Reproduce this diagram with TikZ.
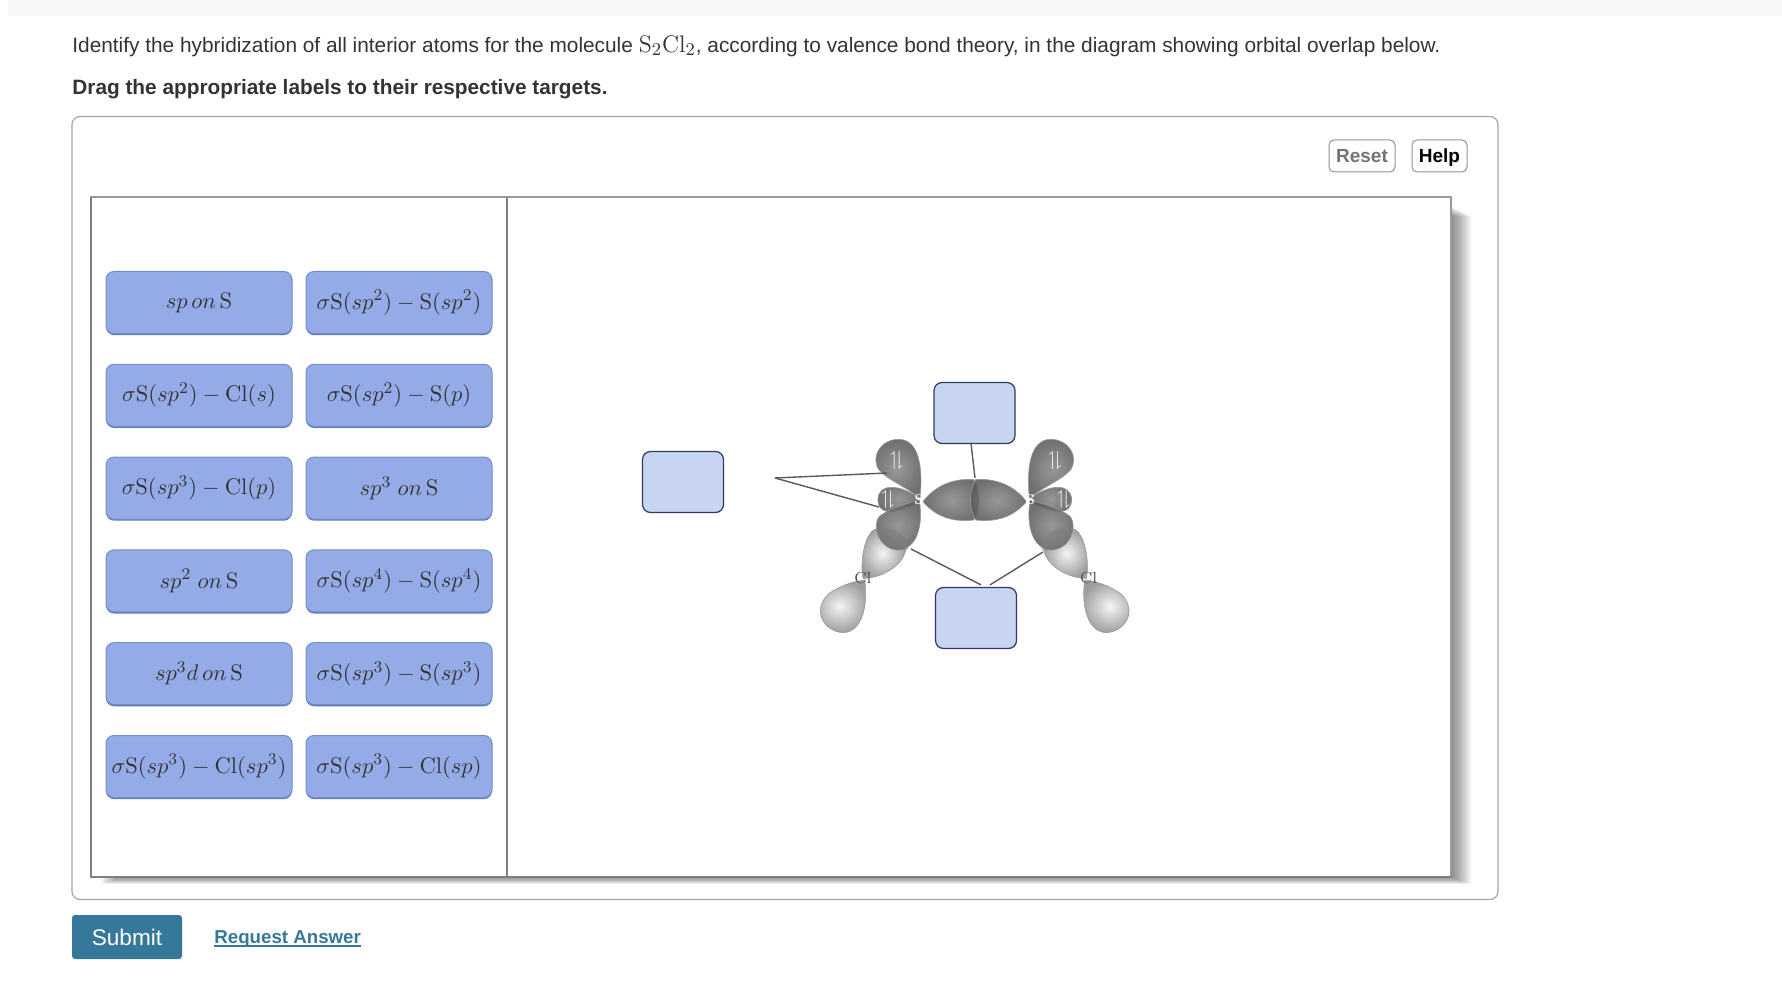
\documentclass[tikz,border=0pt]{standalone}
\usepackage[no-math]{fontspec}
\usepackage{amsmath}
\usepackage{amssymb}
\usepackage{tikz}
\usetikzlibrary{shadows}
\newfontfamily\uifont{Liberation Sans}
\newcommand{\lab}[1]{\scalebox{1.03}{$#1$}}
\definecolor{choicefill}{HTML}{94ABE8}
\definecolor{choiceline}{HTML}{5B7BBE}
\definecolor{targetfill}{HTML}{C7D4F2}
\definecolor{targetline}{HTML}{2F3A5C}
\definecolor{submitblue}{HTML}{35789A}
\definecolor{bodytext}{HTML}{333333}
\tikzstyle{choice} = [rectangle, rounded corners=4pt, minimum width=93pt, minimum height=31pt, inner sep=0pt, text centered, text=bodytext, draw=choiceline!85, line width=0.5pt, fill=choicefill, general shadow={shadow yshift=-0.8pt, fill=choiceline}, font=\fontsize{10.95}{12}\selectfont]
\tikzstyle{target} = [rectangle, rounded corners=4pt, minimum width=40.5pt, minimum height=30.5pt, draw=targetline, line width=0.6pt, fill=targetfill]
\tikzstyle{btn} = [rectangle, rounded corners=2.5pt, minimum height=16pt, inner sep=0pt, text height=7pt, text depth=0pt, draw=gray!85, line width=0.5pt, fill=white, font=\uifont\bfseries\fontsize{9.5}{11}\selectfont]
\tikzstyle{leader} = [line width=0.7pt, draw=black!65]
\tikzstyle{darklobe} = [inner color=black!46, outer color=black!64, draw=black!40, line width=0.3pt, fill opacity=0.88]
\tikzstyle{lightlobe} = [inner color=black!4, outer color=black!38, draw=black!40, line width=0.3pt]
\newcommand{\halforbital}{
    \shade [lightlobe] (685,630) .. controls (695,700) and (680,785) .. (625,788) .. controls (570,785) and (535,720) .. (585,670) .. controls (620,645) and (650,635) .. (685,630);
    \shade [lightlobe] (680,625) .. controls (670,560) and (690,480) .. (720,475) -- (800,540) .. controls (790,590) and (730,625) .. (680,625);
    \shade [darklobe] (838,385) .. controls (790,345) and (722,335) .. (722,390) .. controls (722,430) and (760,440) .. (838,395);
    \shade [darklobe] (840,385) .. controls (848,300) and (840,208) .. (780,208) .. controls (730,208) and (700,260) .. (725,300) .. controls (750,330) and (800,350) .. (840,385);
    \shade [darklobe] (838,390) .. controls (850,470) and (830,540) .. (775,540) .. controls (725,535) and (705,470) .. (725,440) .. controls (760,410) and (810,400) .. (838,390);
    \fill [black!50, fill opacity=0.6] (718,475) .. controls (770,465) and (812,505) .. (806,538) .. controls (770,548) and (725,530) .. (718,475);
    \shade [darklobe] (848,395) .. controls (878,352) and (925,325) .. (990,328) .. controls (1010,360) and (1010,420) .. (990,450) .. controls (925,458) and (880,435) .. (848,395);
}
\begin{document}
\begin{tikzpicture}[x=0.5pt,y=-0.5pt]
    \useasboundingbox (0,0) rectangle (1782,994);
    \fill [black!3] (8,0) rectangle (1782,16);
    % question
    \node (q1) [anchor=west, inner sep=0pt, text=bodytext, font=\uifont\fontsize{10.42}{12}\selectfont] at (72,46) {Identify the hybridization of all interior atoms for the molecule {\fontsize{12.4}{14}\selectfont$\mathrm{S_2Cl_2}$}, according to valence bond theory, in the diagram showing orbital overlap below.};
    \node (q2) [anchor=west, inner sep=0pt, text=bodytext, font=\uifont\bfseries\fontsize{10.4}{12}\selectfont] at (72,89) {Drag the appropriate labels to their respective targets.};
    % panels
    \draw [black!35, line width=0.6pt, rounded corners=4pt] (72,116.5) rectangle (1498,899.5);
    \foreach \i in {1,...,10}
        \fill [black, opacity=0.055] (1451,{206+\i}) rectangle ({1451+2*\i},{877+0.7*\i});
    \foreach \i in {1,...,10}
        \fill [black, opacity=0.055] ({122-2*\i},877) rectangle (1451,{877+0.7*\i});
    \draw [black!40, line width=0.6pt] (91,197) rectangle (1451,877);
    \draw [black!50, line width=1pt] (91,197) -- (91,877) -- (1451,877);
    \draw [black!50, line width=0.8pt] (507,197) -- (507,877);
    \node (reset) [btn, minimum width=33pt, text=black!55] at (1362,156) {Reset};
    \node (help) [btn, minimum width=27.5pt, text=black] at (1439.5,156) {Help};
    % labels
    \node (n1) [choice] at (199,302.5) {\lab{sp\,on\,\mathrm{S}}};
    \node (n2) [choice, right of= n1, node distance = 100pt] {\lab{\sigma\mathrm{S}(sp^2)-\mathrm{S}(sp^2)}};
    \node (n3) [choice, below of= n1, node distance = 46.4pt] {\lab{\sigma\mathrm{S}(sp^2)-\mathrm{Cl}(s)}};
    \node (n4) [choice, right of= n3, node distance = 100pt] {\lab{\sigma\mathrm{S}(sp^2)-\mathrm{S}(p)}};
    \node (n5) [choice, below of= n3, node distance = 46.4pt] {\lab{\sigma\mathrm{S}(sp^3)-\mathrm{Cl}(p)}};
    \node (n6) [choice, right of= n5, node distance = 100pt] {\lab{sp^3\;on\,\mathrm{S}}};
    \node (n7) [choice, below of= n5, node distance = 46.4pt] {\lab{sp^2\;on\,\mathrm{S}}};
    \node (n8) [choice, right of= n7, node distance = 100pt] {\lab{\sigma\mathrm{S}(sp^4)-\mathrm{S}(sp^4)}};
    \node (n9) [choice, below of= n7, node distance = 46.4pt] {\lab{sp^3d\,on\,\mathrm{S}}};
    \node (n10) [choice, right of= n9, node distance = 100pt] {\lab{\sigma\mathrm{S}(sp^3)-\mathrm{S}(sp^3)}};
    \node (n11) [choice, below of= n9, node distance = 46.4pt] {\lab{\sigma\mathrm{S}(sp^3)-\mathrm{Cl}(sp^3)}};
    \node (n12) [choice, right of= n11, node distance = 100pt] {\lab{\sigma\mathrm{S}(sp^3)-\mathrm{Cl}(sp)}};
    % orbitals
    \begin{scope}[shift={(620,370)},x=0.1786pt,y=-0.1667pt]
        \halforbital
        \begin{scope}[shift={(1986,0)},xscale=-1]
            \halforbital
        \end{scope}
        \node (s1) [text=white, font=\bfseries\fontsize{7}{7}\selectfont] at (838,390) {S};
        \node (s2) [text=white, font=\bfseries\fontsize{7}{7}\selectfont] at (1148,390) {S};
        \node (cl1) [text=black!70, font=\fontsize{8}{9}\selectfont] at (680,625) {Cl};
        \node (cl2) [text=black!70, font=\fontsize{8}{9}\selectfont] at (1312,625) {Cl};
        \node (p1) [text=white, font=\fontsize{10}{10}\selectfont] at (775,272) {$\upharpoonleft\!\downharpoonright$};
        \node (p2) [text=white, font=\fontsize{10}{10}\selectfont] at (1218,272) {$\upharpoonleft\!\downharpoonright$};
        \node (p3) [text=white, font=\fontsize{10}{10}\selectfont] at (750,388) {$\upharpoonleft\!\downharpoonright$};
        \node (p4) [text=white, font=\fontsize{10}{10}\selectfont] at (1242,388) {$\upharpoonleft\!\downharpoonright$};
    \end{scope}
    % targets
    \node (t1) [target] at (683,482) {};
    \node (t2) [target] at (974.5,413) {};
    \node (t3) [target] at (976,618) {};
    \coordinate (a0) at (775,478);
    \coordinate (a1) at (887,473);
    \coordinate (a2) at (879,507);
    \coordinate (a3) at (975,478);
    \coordinate (a4) at (911,549);
    \coordinate (a5) at (1043,552);
    \draw [leader] (a0) -- (a1);
    \draw [leader] (a0) -- (a2);
    \draw [leader] ([xshift=-1.7pt]t2.south) -- (a3);
    \draw [leader] ([xshift=2.5pt,yshift=1pt]t3.north) -- (a4);
    \draw [leader] ([xshift=7pt,yshift=1pt]t3.north) -- (a5);
    % footer
    \node (submit) [rectangle, rounded corners=1.5pt, minimum width=55pt, minimum height=22pt, inner sep=0pt, fill=submitblue, text=white, font=\uifont\fontsize{11.3}{13}\selectfont] at (127,937) {Submit};
    \node (answer) [anchor=base west, inner sep=0pt, text=submitblue, font=\uifont\bfseries\fontsize{9.35}{12}\selectfont] at (214,943) {Request Answer};
    \draw [submitblue, line width=0.6pt] ([yshift=-1.5pt]answer.base west) -- ([yshift=-1.5pt]answer.base east);
\end{tikzpicture}
\end{document}
